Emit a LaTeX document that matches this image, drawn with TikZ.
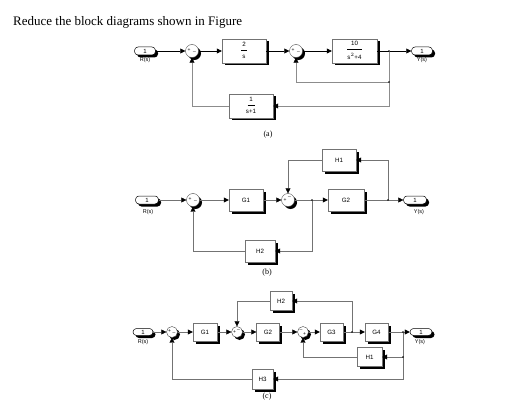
\documentclass[tikz,border=0pt]{standalone}
\usepackage{fontspec}
\setmainfont{Liberation Serif}
\setsansfont{Liberation Sans}
\usetikzlibrary{arrows.meta,shadows}
\newcommand{\simfrac}[3]{\begin{tabular}{@{}c@{}}#2\\[-1.5pt]\rule[1.5pt]{#1}{0.4pt}\\[0pt]#3\end{tabular}}
\begin{document}
\begin{tikzpicture}[x=1pt,y=-1pt,
  shd/.style={general shadow={fill=black, shadow xshift=2.5pt, shadow yshift=-2.5pt}},
  blk/.style={draw=black!55, fill=white, line width=0.4pt, inner sep=0pt, shd,
    font=\sffamily\fontsize{6.2}{7}\selectfont},
  sumn/.style={circle, draw=black!70, fill=white, line width=0.4pt, minimum size=13pt, inner sep=0pt, shd},
  sumc/.style={circle, draw=black!70, fill=white, line width=0.4pt, minimum size=11pt, inner sep=0pt, shd},
  port/.style={draw=black, fill=white, rounded corners=3.5pt, line width=0.5pt, inner sep=0pt,
    minimum width=21pt, minimum height=8pt, shd, font=\sffamily\fontsize{6}{6.5}\selectfont},
  lbl/.style={font=\sffamily\fontsize{5.5}{6}\selectfont, inner sep=0pt},
  sgn/.style={font=\sffamily\fontsize{5}{5.5}\selectfont, inner sep=0pt},
  capt/.style={font=\fontsize{8}{9}\selectfont, inner sep=0pt},
  arrtip/.style={-{Triangle[length=5pt,width=5pt,color=black]}},
  sig/.style={draw=black, line width=0.6pt, arrtip},
  fb/.style={draw=black!45, line width=0.5pt, arrtip},
  ln/.style={draw=black!55, line width=0.45pt, arrtip},
  dot/.style={circle, fill=black, inner sep=0pt, minimum size=1.6pt}
]
\useasboundingbox (0,0) rectangle (520,412);
\fill[white] (0,0) rectangle (520,412);

\node[anchor=west, font=\fontsize{13}{15}\selectfont, inner sep=0pt] (title) at (13,22) {Reduce the block diagrams shown in Figure};

% ---------------- (a)
\node[port] (ra) at (145,51) {1};
\node[lbl] (ral) at (145,60) {R(s)};
\node[sumn] (sa1) at (192,51) {};
\node[sgn] (sa1p) at ([shift={(-3,-1)}]sa1.center) {+};
\node[sgn] (sa1m) at ([shift={(2.5,1)}]sa1.center) {\_};
\node[blk, minimum width=44pt, minimum height=24pt] (ba1) at (244,51) {\simfrac{6pt}{2}{s}};
\node[sumn] (sa2) at (296,51) {};
\node[sgn] (sa2p) at ([shift={(-3,-1)}]sa2.center) {+};
\node[sgn] (sa2m) at ([shift={(2.5,1)}]sa2.center) {\_};
\node[blk, minimum width=45pt, minimum height=24pt] (ba2) at (354.5,51) {\simfrac{15pt}{10}{s$^{2}$+4}};
\coordinate (pa) at (389,51);
\coordinate (qa) at (389,82);
\node[port] (ya) at (422,51) {1};
\node[lbl] (yal) at (422,60) {Y(s)};
\node[blk, minimum width=44pt, minimum height=24pt] (ba3) at (251,106) {\simfrac{7pt}{1}{s+1}};
\node[capt] (capa) at (268,135) {(a)};

\draw[sig] (ra) -- (sa1);
\draw[sig] (sa1) -- (ba1);
\draw[sig] (ba1) -- (sa2);
\draw[sig] (sa2) -- (ba2);
\draw[sig] (ba2) -- (ya);
\draw[fb] (pa) |- (ba3.east);
\draw[fb] (ba3.west) -| (sa1.south);
\draw[fb] (qa) -| (sa2.south);
\node[dot] at (pa) {};
\node[dot] at (qa) {};

% ---------------- (b)
\node[port, minimum width=23pt] (rb) at (147,200) {1};
\node[lbl] (rbl) at (148,212) {R(s)};
\node[sumn] (sb1) at (193,200) {};
\node[sgn] (sb1p) at ([shift={(-3,-1)}]sb1.center) {+};
\node[sgn] (sb1m) at ([shift={(2.5,1)}]sb1.center) {\_};
\node[blk, minimum width=34pt, minimum height=22pt] (g1b) at (246,200) {G1};
\node[sumn] (sb2) at (288,200) {};
\node[sgn] (sb2p) at ([shift={(-3,0)}]sb2.center) {+};
\node[sgn] (sb2m) at ([shift={(1.5,-3)}]sb2.center) {\_};
\coordinate (pb1) at (312,200);
\node[blk, minimum width=36pt, minimum height=22pt] (g2b) at (346,200) {G2};
\coordinate (pb2) at (388,200);
\node[port, minimum width=23pt] (yb) at (415,200) {1};
\node[lbl] (ybl) at (419,212) {Y(s)};
\node[blk, minimum width=34pt, minimum height=22pt] (h1b) at (339,160) {H1};
\node[blk, minimum width=30pt, minimum height=22pt] (h2b) at (260,251) {H2};
\node[capt] (capb) at (267,273) {(b)};

\draw[ln] (rb) -- (sb1);
\draw[ln] (sb1) -- (g1b);
\draw[ln] (g1b) -- (sb2);
\draw[ln] (sb2) -- (g2b);
\draw[ln] (g2b) -- (yb);
\draw[ln] (pb2) |- (h1b.east);
\draw[ln] (h1b.west) -| (sb2.north);
\draw[ln] (pb1) |- (h2b.east);
\draw[ln] (h2b.west) -| (sb1.south);
\node[dot] at (pb1) {};
\node[dot] at (pb2) {};

% ---------------- (c)
\node[port, minimum width=20pt, minimum height=7pt] (rc) at (143,332) {1};
\node[lbl] (rcl) at (143,342) {R(s)};
\node[sumc] (sc1) at (172,332) {};
\node[sgn] (sc1p) at ([shift={(-2.5,-1)}]sc1.center) {+};
\node[sgn] (sc1m) at ([shift={(2,1)}]sc1.center) {\_};
\node[blk, minimum width=24pt, minimum height=18pt] (g1c) at (205,332) {G1};
\node[sumc] (sc2) at (237,332) {};
\node[sgn] (sc2p) at ([shift={(-2.5,0)}]sc2.center) {+};
\node[sgn] (sc2m) at ([shift={(1.5,-2.5)}]sc2.center) {\_};
\node[blk, minimum width=23pt, minimum height=18pt] (g2c) at (268,332) {G2};
\node[sumc] (sc3) at (303,332) {};
\node[sgn] (sc3m) at ([shift={(-2,-2)}]sc3.center) {\_};
\node[sgn] (sc3p) at ([shift={(1.5,2)}]sc3.center) {+};
\node[blk, minimum width=23pt, minimum height=18pt] (g3c) at (331.5,332) {G3};
\coordinate (pc1) at (352,332);
\node[blk, minimum width=23pt, minimum height=18pt] (g4c) at (376.5,332) {G4};
\coordinate (pc2) at (403,332);
\coordinate (pc3) at (403,357);
\node[port, minimum width=22pt, minimum height=7pt] (yc) at (421,332) {1};
\node[lbl] (ycl) at (420,342) {Y(s)};
\node[blk, minimum width=22pt, minimum height=19pt] (h2c) at (281,301) {H2};
\node[blk, minimum width=25pt, minimum height=19pt] (h1c) at (369.5,357) {H1};
\node[blk, minimum width=21pt, minimum height=20pt] (h3c) at (262.5,379) {H3};
\node[capt] (capc) at (267,397) {(c)};

\draw[ln] (rc) -- (sc1);
\draw[ln] (sc1) -- (g1c);
\draw[ln] (g1c) -- (sc2);
\draw[ln] (sc2) -- (g2c);
\draw[ln] (g2c) -- (sc3);
\draw[ln] (sc3) -- (g3c);
\draw[ln] (g3c) -- (g4c);
\draw[ln] (g4c) -- (yc);
\draw[ln] (pc1) |- (h2c.east);
\draw[ln] (h2c.west) -| (sc2.north);
\draw[ln] (pc2) |- (h1c.east);
\draw[ln] (h1c.west) -| (sc3.south);
\draw[ln] (pc3) |- (h3c.east);
\draw[ln] (h3c.west) -| (sc1.south);
\node[dot] at (pc1) {};
\node[dot] at (pc2) {};
\node[dot] at (pc3) {};
\end{tikzpicture}
\end{document}
